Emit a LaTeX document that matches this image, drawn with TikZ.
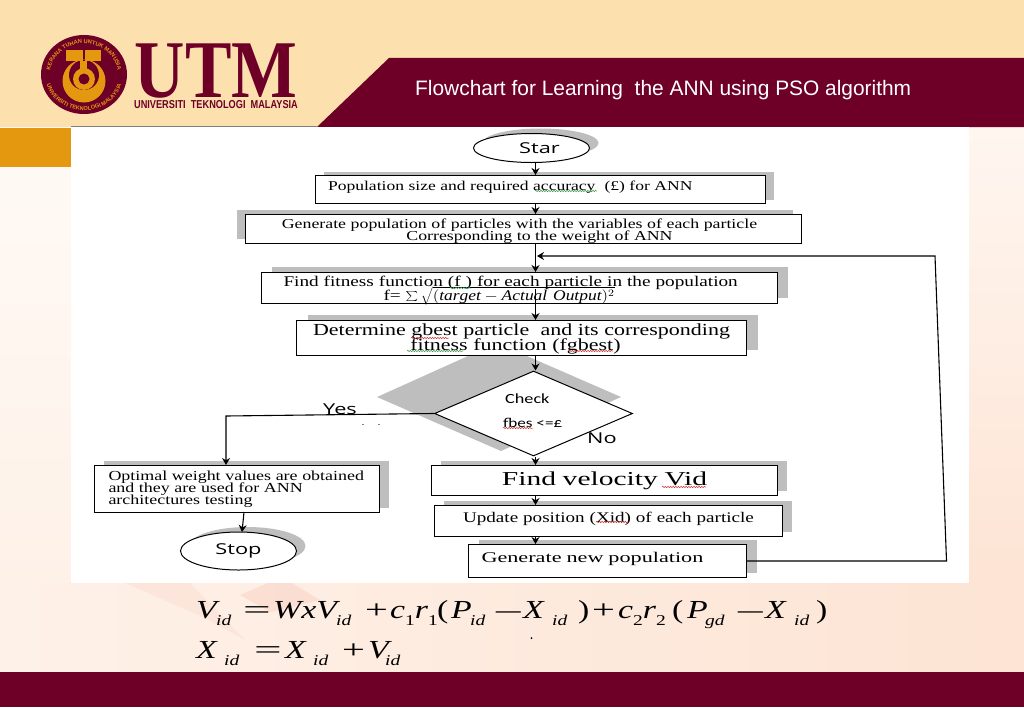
\documentclass[tikz,border=0pt]{standalone}
\usepackage{fontspec}
\setmainfont{Liberation Serif}
\setsansfont{Liberation Sans}
\newfontfamily\boxfont[FakeStretch=1.3]{Liberation Serif}
\newfontfamily\widefont[FakeStretch=1.5]{Liberation Serif}
\newfontfamily\calfont[FakeStretch=1.3]{Carlito}
\newfontfamily\tagfont[FakeStretch=1.45]{Open Sans}
\newfontfamily\utmfont[FakeStretch=0.85]{Liberation Serif}
\newfontfamily\utmsans[FakeStretch=0.8]{Liberation Sans}
\newfontfamily\eqfont[FakeStretch=1.3]{Liberation Serif}
\usetikzlibrary{arrows.meta, positioning, calc, shapes.geometric, shadows, decorations.text, decorations.pathmorphing}
\definecolor{utmmaroon}{RGB}{110, 0, 40}
\definecolor{utmorange}{RGB}{228, 152, 16}
\definecolor{utmcream}{RGB}{252, 224, 174}
\definecolor{boxshadow}{RGB}{190, 190, 190}
\definecolor{lefttop}{RGB}{255, 250, 246}
\definecolor{leftlow}{RGB}{254, 241, 232}
\definecolor{righttop}{RGB}{255, 246, 240}
\definecolor{rightlow}{RGB}{253, 228, 212}
\definecolor{handmark}{RGB}{247, 205, 190}
\definecolor{spellred}{RGB}{205, 50, 50}
\definecolor{spellgreen}{RGB}{60, 150, 70}
\newcommand{\flowtxt}[2]{\boxfont\fontsize{#1}{#2}\selectfont\lineskiplimit=-100pt }
\newcommand{\widetxt}[2]{\widefont\fontsize{#1}{#2}\selectfont}
% one run of a formula, in a cell of fixed width
\newcommand{\eqcell}[2]{\makebox[#1pt][l]{#2}}
\newcommand{\eqit}[1]{\textit{#1}}
\newcommand{\eqsub}[1]{\raisebox{-7pt}{\fontsize{15}{15}\selectfont\itshape #1}}
\newcommand{\eqnum}[1]{\raisebox{-7pt}{\fontsize{15}{15}\selectfont\upshape #1}}
\newcommand{\eqeq}{\scalebox{1.45}[1]{=}}
\newcommand{\eqplus}{\scalebox{1.2}[1]{+}}
\newcommand{\eqminus}{\scalebox{1.45}[1]{–}}

\begin{document}
\begin{tikzpicture}[
    x=1pt, y=-1pt,
    >={Stealth[length=7pt, width=8pt]},
    flowbox/.style={draw, fill=white, line width=1pt, anchor=north west, inner ysep=0pt, inner xsep=#1, align=left},
    flowbox/.default=4pt,
    endbox/.style={draw, fill=white, ellipse, line width=1pt, inner sep=0pt, minimum width=116pt, font=\tagfont\fontsize{15}{17}\selectfont},
    shadowat/.style 2 args={copy shadow={shadow xshift=#1pt, shadow yshift=#2pt, fill=boxshadow, draw=none}},
    flowline/.style={line width=1.1pt},
    spell/.style={#1, line width=0.5pt, decorate, decoration={snake, amplitude=0.7pt, segment length=2.6pt}},
    tagtxt/.style={font=\tagfont\fontsize{15}{17}\selectfont, inner sep=0pt},
    checktxt/.style={anchor=west, inner sep=0pt, font=\calfont\fontsize{#1}{16}\selectfont},
    eqline/.style={anchor=base west, inner sep=0pt, font=\eqfont\fontsize{26}{30}\selectfont},
]
    \useasboundingbox (0,0) rectangle (1024,709);

    % --- Slide background ---
    \fill[utmcream] (0,0) rectangle (1024,128);
    \shade[top color=lefttop, bottom color=leftlow] (0,127) rectangle (71,584);
    \shade[top color=righttop, bottom color=rightlow] (969,127) rectangle (1024,584);
    \shade[left color=leftlow, right color=rightlow] (0,583) rectangle (1024,672);
    \fill[handmark, opacity=0.25] (125,583) -- (190,583) -- (245,640) -- (205,618) -- cycle;
    \fill[handmark, opacity=0.45] (240,595) -- (268,583) -- (292,583) -- (320,600) -- (270,612) -- cycle;
    \fill[utmmaroon] (0,672) rectangle (1024,707);
    \fill[utmorange] (0,128) rectangle (71,167);
    \fill[utmmaroon] (317,127) -- (389,58) -- (1024,58) -- (1024,127) -- cycle;
    \fill[white] (71,127) rectangle (969,583);
    \draw[gray, line width=0.5pt] (71,126.5) -- (317,126.5);

    % --- Logo ---
    \coordinate (logoc) at (84,74.5);
    \fill[utmmaroon] (logoc) ellipse [x radius=43pt, y radius=39.5pt];
    \fill[utmorange] (84,81) circle (21.5pt);
    \fill[utmmaroon] (84,75) circle (15pt);
    \fill[utmorange] (84,79) circle (11pt);
    \fill[utmmaroon] (84,79) circle (5.5pt);
    \fill[utmorange] (66,50) rectangle (83,61);
    \fill[utmorange] (85,50) rectangle (101,61);
    \fill[utmorange] (80,61) rectangle (87,72);
    \path[decorate, decoration={text along path, text align=center,
        text={|\sffamily\bfseries\fontsize{5.6}{6}\selectfont\color{utmorange}|KERANA TUHAN UNTUK MANUSIA}}]
        (logoc) ++(172:34pt and 31pt) arc[start angle=172, end angle=8, x radius=34pt, y radius=31pt];
    \path[decorate, decoration={text along path, text align=center,
        text={|\sffamily\bfseries\fontsize{5.6}{6}\selectfont\color{utmorange}|UNIVERSITI TEKNOLOGI MALAYSIA}}]
        (logoc) ++(184:39pt and 36pt) arc[start angle=184, end angle=356, x radius=39pt, y radius=36pt];
    \node[text=utmmaroon, font=\utmfont\bfseries\fontsize{82}{82}\selectfont, inner sep=0pt, anchor=base] (utmword) at (216,97) {UTM};
    \node[text=utmmaroon, font=\utmsans\bfseries\fontsize{11.5}{12}\selectfont, inner sep=0pt, anchor=base] (utmname) at (216,108) {UNIVERSITI\ \ TEKNOLOGI\ \ MALAYSIA};
    \node[text=white, font=\sffamily\fontsize{20.9}{23}\selectfont, inner sep=0pt, anchor=base west] (slidetitle) at (415,95) {Flowchart for Learning\ \ the ANN using PSO algorithm};

    % --- Flowchart ---
    \fill[boxshadow] (377,397) -- (497,343) -- (621,397) -- (501,451) -- cycle;
    \node[endbox, minimum height=29pt, shadowat={9}{5}] (star) at (531.5,148) {\hspace*{16pt}Star};
    \node[flowbox=13pt, text width=424pt, minimum height=28pt, text depth=8pt, shadowat={9}{4}, font=\flowtxt{13.5}{14}] (popsize) at (314.5,175) {Population size and required accuracy\ \ (£) for ANN};
    \node[flowbox, text width=548pt, minimum height=29pt, text height=14pt, shadowat={-9}{5}, align=center, font=\flowtxt{13.7}{12}] (genpop) at (245,214) {\hspace*{-8pt}Generate population of particles with the variables of each particle\\\hspace*{32pt}Corresponding to the weight of ANN};
    \node[flowbox=22pt, text width=472pt, minimum height=31pt, shadowat={10}{6}, font=\flowtxt{14.8}{14}] (findfit) at (261,272) {Find fitness function (f ) for each particle in the population\\\hspace*{100pt}f= \smash{\scalebox{1.18}[1]{$\sum\sqrt{(\mathit{target}-\mathit{Actual\ Output})^2}$}}};
    \node[flowbox, text width=442pt, minimum height=35pt, text height=14pt, shadowat={11}{6}, align=center, font=\flowtxt{16.9}{14.5}] (gbest) at (296,320) {Determine gbest particle\ \ and its corresponding\\\hspace*{-12pt}fitness function (fgbest)};
    \node[draw, fill=white, diamond, line width=1pt, inner sep=0pt, minimum width=198pt, minimum height=85pt] (check) at (533.5,413.5) {};
    \node[checktxt=14] (checkword) at (505,399) {Check};
    \node[checktxt=13.2] (checkcond) at (503,423) {fbes <=£};
    \node[flowbox=14pt, text width=257pt, minimum height=47pt, shadowat={9}{5}, font=\flowtxt{13.8}{12}] (optimal) at (94,465) {Optimal weight values are obtained\\and they are used for ANN\\architectures testing};
    \node[flowbox, text width=338pt, minimum height=30pt, shadowat={9}{5}, align=center, font=\widetxt{19.7}{20}] (velocity) at (431,465) {Find velocity Vid};
    \node[flowbox, text width=340pt, minimum height=31pt, text depth=8pt, shadowat={9}{5}, align=center, font=\flowtxt{14.7}{15}] (update) at (434,505) {Update position (Xid) of each particle};
    \node[flowbox=13pt, text width=252pt, minimum height=33pt, text depth=8pt, shadowat={10}{5}, font=\widetxt{14.8}{15}] (gennew) at (468,544) {Generate new population};
    \node[endbox, minimum height=38pt, shadowat={9}{5}] (stop) at (238.5,551) {Stop};

    \node[tagtxt] (yeslabel) at (340,409) {Yes};
    \node[tagtxt] (nolabel) at (602,438) {No};

    \coordinate (spine) at (535.5,300);
    \coordinate (fitbar) at (535.5,289);
    \coordinate (yesturn) at (226,416);
    \coordinate (loopa) at (946.5,561);
    \coordinate (loopb) at (935,256);
    \coordinate (loopc) at (537,256);

    \foreach \from/\to in {star/popsize, popsize/genpop, genpop/findfit, gbest/check, check/velocity, velocity/update, update/gennew}
        \draw[->, flowline] (spine |- \from.south) -- (spine |- \to.north);
    \draw[->, flowline] (fitbar) -- (spine |- gbest.north);
    \draw[->, flowline] (check.west) -- (yesturn) -- (yesturn |- optimal.north);
    \draw[->, flowline] (244,512) -- (242,532);
    \draw[->, flowline] (gennew.east) -- (loopa) -- (loopb) -- (loopc);

    % --- Spelling marks ---
    \draw[spell=spellgreen] (535,191) -- (597,191);
    \draw[spell=spellgreen] (450,288) -- (471,288);
    \draw[spell=spellred] (411,338) -- (449,338);
    \draw[spell=spellgreen] (407,351) -- (463,351);
    \draw[spell=spellred] (569,351) -- (613,351);
    \draw[spell=spellred] (503,428) -- (533,428);
    \draw[spell=spellred] (662,487) -- (706,487);
    \draw[spell=spellred] (596,522) -- (628,522);

    % --- Equations ---
    \node[eqline] (eqvel) at (196,618) {\eqcell{20}{\eqit{V}}\eqcell{27}{\eqsub{id}}\eqcell{30}{\eqeq}\eqcell{63}{\eqit{WxV}}\eqcell{29}{\eqsub{id}}\eqcell{25}{\eqplus}\eqcell{47}{\eqit{c}\eqnum{1}\eqit{r}\eqnum{1}}\eqcell{14}{(}\eqcell{19}{\eqit{P}}\eqcell{26}{\eqsub{id}}\eqcell{27}{\eqminus}\eqcell{29}{\eqit{X}}\eqcell{26}{\eqsub{id}}\eqcell{14}{)}\eqcell{26}{\eqplus}\eqcell{54}{\eqit{c}\eqnum{2}\eqit{r}\eqnum{2}}\eqcell{15}{(}\eqcell{18}{\eqit{P}}\eqcell{33}{\eqsub{gd}}\eqcell{27}{\eqminus}\eqcell{29}{\eqit{X}}\eqcell{22}{\eqsub{id}})};
    \node[eqline] (eqpos) at (196,658) {\eqcell{28}{\eqit{X}}\eqcell{30}{\eqsub{id}}\eqcell{31}{\eqeq}\eqcell{28}{\eqit{X}}\eqcell{29}{\eqsub{id}}\eqcell{26}{\eqplus}\eqcell{17}{\eqit{V}}\eqsub{id}};
    \fill[black] (531.5,638) circle (1pt);
    \fill[gray] (362,424) rectangle (364,425);
    \fill[gray] (378,424) rectangle (380,425);
\end{tikzpicture}
\end{document}
